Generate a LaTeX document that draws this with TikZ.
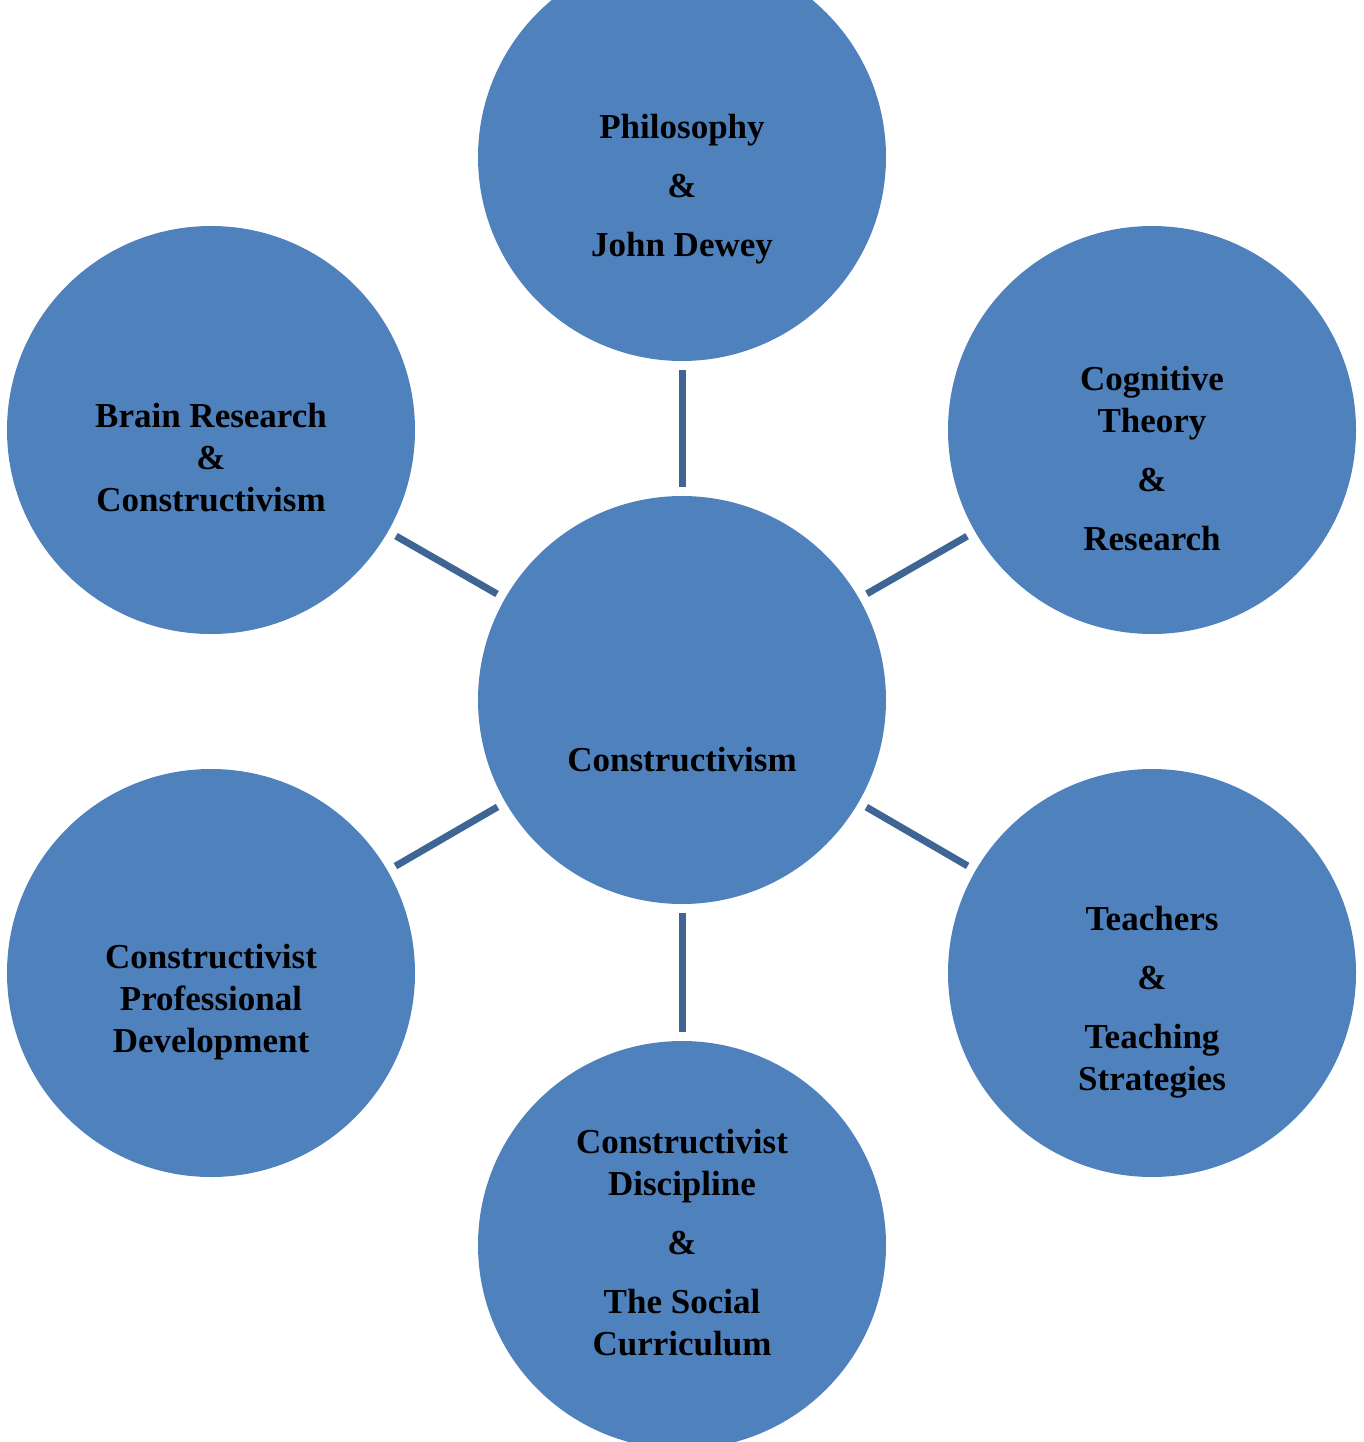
\documentclass[tikz,border=0pt]{standalone}
\usepackage{fontspec}
\setmainfont{Liberation Serif}
\begin{document}
\begin{tikzpicture}[x=1pt,y=-1pt,
  bub/.style={circle,fill=bubfill,minimum size=408pt,inner sep=0pt},
  lab/.style={align=center,font=\fontsize{35}{42}\selectfont\bfseries,inner sep=0pt},
  link/.style={draw=linkc,line width=7pt,shorten >=9pt,shorten <=9pt}]
\definecolor{bubfill}{HTML}{4F81BD}
\definecolor{linkc}{HTML}{3F6594}
\useasboundingbox (0,0) rectangle (1364,1442);
\node[bub] (c) at (682,700) {};
\node[bub] (t) at (682,157) {};
\node[bub] (tr) at (1152,430) {};
\node[bub] (br) at (1152,973) {};
\node[bub] (b) at (682,1245) {};
\node[bub] (bl) at (211,973) {};
\node[bub] (tl) at (211,430) {};
\foreach \n in {t,tr,br,b,bl,tl} \draw[link] (c) -- (\n);
\node[lab] (lc) at (682,760) {Constructivism};
\node[lab] (lt) at (682,189) {Philosophy\\[17pt]\&\\[17pt]John Dewey};
\node[lab] (ltr) at (1152,459) {Cognitive\\Theory\\[17pt]\&\\[17pt]Research};
\node[lab] (ltl) at (211,458) {Brain Research\\\&\\Constructivism};
\node[lab] (lbl) at (211,1002) {Constructivist\\Professional\\Development};
\node[lab] (lbr) at (1152,1002) {Teachers\\[17pt]\&\\[17pt]Teaching\\Strategies};
\node[lab] (lb) at (682,1243) {Constructivist\\Discipline\\[17pt]\&\\[17pt]The Social\\Curriculum};
\end{tikzpicture}
\end{document}
